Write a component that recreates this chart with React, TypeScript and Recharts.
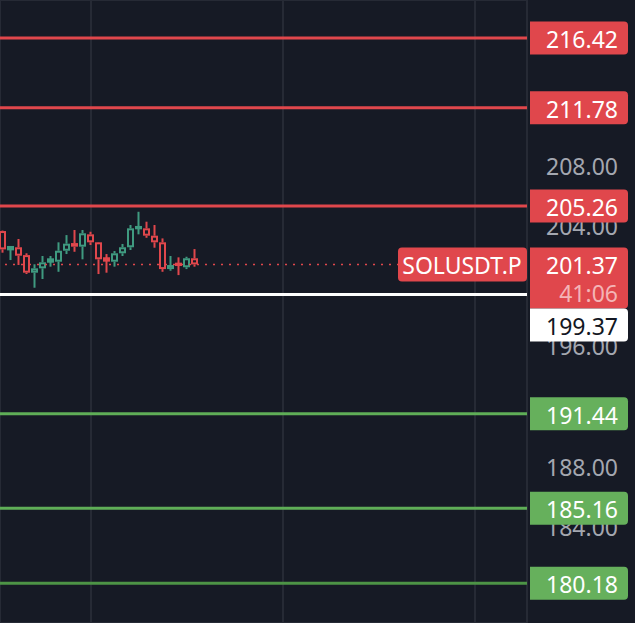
import React from "react";
import { ComposedChart, Bar, XAxis, YAxis, CartesianGrid, ReferenceLine } from "recharts";

// candles, oldest first
const opens = [203.59, 202.37, 202.51, 201.99, 200.82, 201.11, 201.55, 201.55, 202.28, 202.79, 202.55, 203.37, 202.84, 201.78, 201.55, 202.11, 202.51, 203.77, 203.77, 203.28, 202.84, 201.06, 201.42, 201.18, 201.78];
const highs = [203.62, 202.53, 203.06, 202.11, 201.38, 201.93, 201.93, 202.84, 203.32, 203.66, 203.66, 203.54, 202.86, 202.06, 202.26, 202.73, 203.99, 204.87, 204.21, 203.99, 203.1, 201.93, 201.84, 201.88, 202.39];
const lows = [202.15, 201.66, 201.33, 200.73, 199.82, 200.4, 201.22, 200.88, 202.06, 202.21, 201.71, 202.66, 200.73, 200.82, 201.22, 201.93, 202.33, 203.37, 203.14, 202.48, 200.88, 200.95, 200.66, 201.06, 201.22];
const closes = [202.37, 202.53, 201.95, 200.82, 201.11, 201.51, 201.71, 202.28, 202.75, 202.55, 203.44, 202.84, 201.71, 201.62, 202.11, 202.51, 203.77, 203.86, 203.28, 202.84, 201.06, 201.33, 201.33, 201.78, 201.37];

const priceTicks = [180, 184, 188, 192, 196, 200, 204, 208, 212, 216];
// tick values whose text is not hidden behind a badge
const shownTickLabels = [184, 188, 196, 204, 208];
const timeTicks = [11, 35, 59];

const resistanceLevels = [216.42, 211.78, 205.26];
const supportLevels = [191.44, 185.16, 180.18];
const supportLineColors = ["#5fae57", "#5fae57", "#4d9446"];

const symbol = "SOLUSDT.P";
const lastPrice = 201.37;
const countdown = "41:06";
const markPrice = 199.37;

const BG = "#161a25";
const GRID = "#262a35";
const RED = "#e0474c";
const GREEN = "#3f9a80";
const LABEL_GREEN = "#66b05c";
const FONT = "'Noto Sans', sans-serif";

const data = opens.map((o, i) => ({
  i,
  o,
  h: highs[i],
  l: lows[i],
  c: closes[i],
  range: [lows[i], highs[i]],
}));

const Candle = (props: any) => {
  const { x, y, width, height, payload } = props;
  const { o, h, l, c } = payload;
  const top = Math.min(y, y + height);
  const span = Math.abs(height);
  const k = h === l ? 0 : span / (h - l);
  const py = (p: number) => top + (h - p) * k;
  const color = c >= o ? GREEN : RED;
  const cx = x + width / 2;
  const bTop = py(Math.max(o, c));
  const bBot = py(Math.min(o, c));
  const bh = bBot - bTop;
  return (
    <g>
      <line x1={cx} x2={cx} y1={py(h)} y2={bTop} stroke={color} strokeWidth={2} />
      <line x1={cx} x2={cx} y1={bBot} y2={py(l)} stroke={color} strokeWidth={2} />
      {bh > 3 ? (
        <rect x={x + 1} y={bTop + 1} width={width - 2} height={bh - 2} fill={BG} stroke={color} strokeWidth={2} />
      ) : (
        <rect x={x} y={bTop - 1} width={width} height={Math.max(bh, 0) + 2} fill={color} />
      )}
    </g>
  );
};

// price-scale tick text, drawn beneath the level badges
const tickLabel = (value: number) => (props: any) => {
  const { viewBox } = props;
  const right = viewBox.x + viewBox.width;
  return (
    <text x={right + 91} y={viewBox.y + 1} textAnchor="end" dominantBaseline="central" fill="#a4a7b0" fontSize={23} fontFamily={FONT}>
      {value.toFixed(2)}
    </text>
  );
};

const boxPath = (x: number, y: number, w: number, h: number, r: number) =>
  `M${x},${y} H${x + w - r} Q${x + w},${y} ${x + w},${y + r} V${y + h - r} Q${x + w},${y + h} ${x + w - r},${y + h} H${x} Z`;

const levelLabel = (text: string, fill: string) => (props: any) => {
  const { viewBox } = props;
  const bx = viewBox.x + viewBox.width + 3;
  const cy = viewBox.y;
  return (
    <g>
      <path d={boxPath(bx, cy - 16.5, 98, 33, 4)} fill={fill} />
      <text x={bx + 88} y={cy + 1} textAnchor="end" dominantBaseline="central" fill="#fff" fontSize={23} fontFamily={FONT}>
        {text}
      </text>
    </g>
  );
};

const LastPriceLabel = (props: any) => {
  const { viewBox } = props;
  const right = viewBox.x + viewBox.width;
  const bx = right + 3;
  const cy = viewBox.y;
  return (
    <g>
      <rect x={right - 129} y={cy - 17} width={129} height={34} rx={4} fill={RED} />
      <text x={right - 65} y={cy + 1} textAnchor="middle" dominantBaseline="central" fill="#fff" fontSize={23} fontFamily={FONT}>
        {symbol}
      </text>
      <path d={boxPath(bx, cy - 17, 98, 61, 4)} fill={RED} />
      <text x={bx + 88} y={cy + 1} textAnchor="end" dominantBaseline="central" fill="#fff" fontSize={23} fontFamily={FONT}>
        {lastPrice.toFixed(2)}
      </text>
      <text x={bx + 88} y={cy + 29} textAnchor="end" dominantBaseline="central" fill="#f4b4b6" fontSize={23} fontFamily={FONT}>
        {countdown}
      </text>
    </g>
  );
};

const MarkLabel = (props: any) => {
  const { viewBox } = props;
  const bx = viewBox.x + viewBox.width + 3;
  const cy = viewBox.y;
  return (
    <g>
      <path d={boxPath(bx, cy + 14, 98, 33, 4)} fill="#ffffff" />
      <text x={bx + 88} y={cy + 31} textAnchor="end" dominantBaseline="central" fill="#131722" fontSize={23} fontFamily={FONT}>
        {markPrice.toFixed(2)}
      </text>
    </g>
  );
};

export default function App() {
  return (
    <div style={{ position: "absolute", left: 0, top: 0, width: 635, height: 623, background: BG }}>
      <ComposedChart width={635} height={623} data={data} margin={{ top: 0, right: 0, left: 0, bottom: 0 }}>
        <CartesianGrid stroke={GRID} strokeWidth={2} />
        <XAxis dataKey="i" type="number" domain={[-0.375, 65.5]} ticks={timeTicks} allowDataOverflow hide />
        <YAxis
          orientation="right"
          width={108}
          domain={[177.53, 218.95]}
          ticks={priceTicks}
          allowDataOverflow
          axisLine={false}
          tickLine={false}
          tick={false}
        />
        <Bar dataKey="range" barSize={7} shape={<Candle />} isAnimationActive={false} />
        {shownTickLabels.map((t) => (
          <ReferenceLine key={`t${t}`} y={t} stroke="none" label={tickLabel(t)} />
        ))}
        <ReferenceLine y={lastPrice} stroke={RED} strokeWidth={1.5} strokeDasharray="2 6" label={<LastPriceLabel />} />
        <ReferenceLine y={markPrice} stroke="#ffffff" strokeWidth={3} label={<MarkLabel />} />
        {resistanceLevels.map((v) => (
          <ReferenceLine key={v} y={v} stroke={RED} strokeWidth={3} label={levelLabel(v.toFixed(2), RED)} />
        ))}
        {supportLevels.map((v, i) => (
          <ReferenceLine key={v} y={v} stroke={supportLineColors[i]} strokeWidth={3} label={levelLabel(v.toFixed(2), LABEL_GREEN)} />
        ))}
      </ComposedChart>
    </div>
  );
}
